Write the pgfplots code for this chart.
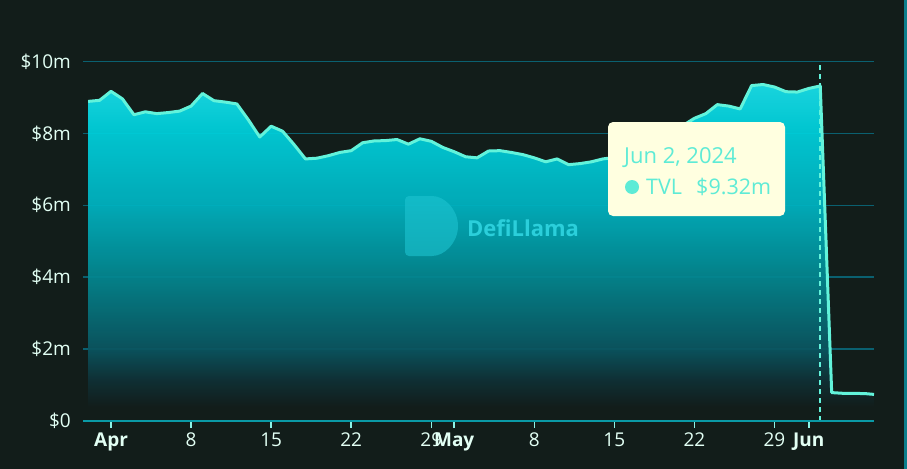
\documentclass[border=0pt]{standalone}
\usepackage{pgfplots}
\usepackage{pgfplotstable}
\pgfplotsset{compat=1.18}
\usepackage{fontspec}
\setmainfont{Open Sans}
\definecolor{bg}{HTML}{121D1A}
\definecolor{c1}{HTML}{0F3035}
\definecolor{c2}{HTML}{0A5560}
\definecolor{c3}{HTML}{04868F}
\definecolor{c4}{HTML}{00B2C0}
\definecolor{c5}{HTML}{00D0DC}
\definecolor{c6}{HTML}{1AE0EA}
\definecolor{linecol}{HTML}{62F3DB}
\definecolor{gridcol}{HTML}{0A6070}
\definecolor{axiscol}{HTML}{0A9AA6}
\definecolor{tickcol}{HTML}{8EF2E6}
\definecolor{labcol}{HTML}{E2FFF4}
\definecolor{tipbg}{HTML}{FFFFE0}
\definecolor{tiptext}{HTML}{5EEBD6}
\definecolor{border}{HTML}{0B7E8C}
\definecolor{wmtext}{HTML}{2BCFDB}
\definecolor{wmlogo}{HTML}{1EC4D1}
\pgfdeclareverticalshading{tvlshade}{100bp}{color(0bp)=(bg); color(27bp)=(bg); color(31bp)=(c1); color(35.7bp)=(c2); color(46.4bp)=(c3); color(57.1bp)=(c4); color(68.3bp)=(c5); color(75bp)=(c6); color(100bp)=(c6)}
\pgfplotstableread{
d v
-2 8.89
-1 8.92
0 9.17
1 8.96
2 8.52
3 8.60
4 8.55
5 8.58
6 8.62
7 8.76
8 9.11
9 8.91
10 8.87
11 8.82
12 8.38
13 7.90
14 8.20
15 8.06
16 7.69
17 7.29
18 7.31
19 7.38
20 7.47
21 7.52
22 7.74
23 7.79
24 7.80
25 7.83
26 7.70
27 7.85
28 7.78
29 7.61
30 7.49
31 7.35
32 7.32
33 7.51
34 7.52
35 7.47
36 7.41
37 7.32
38 7.21
39 7.29
40 7.13
41 7.16
42 7.21
43 7.29
44 7.33
45 7.45
46 7.58
47 7.72
48 7.88
49 8.05
50 8.22
51 8.42
52 8.55
53 8.80
54 8.76
55 8.68
56 9.33
57 9.36
58 9.29
59 9.16
60 9.15
61 9.25
62 9.32
63 0.79
64 0.77
65 0.77
66 0.76
66.7 0.74
}\tvl
\begin{document}
\begin{tikzpicture}
\useasboundingbox (0,0) rectangle (907bp,-469bp);
\fill[bg] (0,0) rectangle (907bp,-469bp);
\begin{axis}[
  at={(83bp,-421bp)}, anchor=south west,
  scale only axis, width=791bp, height=359.5bp,
  xmin=-2.45, xmax=66.7, ymin=0, ymax=10,
  enlargelimits=false, clip=false,
  axis on top,
  axis lines*=left,
  x axis line style={draw=axiscol, line width=2bp},
  y axis line style={draw=none},
  ytick={0,2,4,6,8,10},
  yticklabels={\$0,\$2m,\$4m,\$6m,\$8m,\$10m},
  ytick style={draw=none},
  yticklabel style={anchor=east, inner sep=0pt, xshift=-5bp},
  xtick={0,7,14,21,28,30,37,44,51,58,61},
  xticklabels={\textbf{Apr},8,15,22,29,\textbf{May},8,15,22,29,\textbf{Jun}},
  tick align=outside,
  major tick length=7bp,
  xtick style={draw=tickcol, line width=1.5bp},
  xticklabel style={anchor=north, inner sep=0pt, yshift=-5bp},
  ticklabel style={font=\fontsize{19bp}{22bp}\selectfont, text=labcol},
  /pgf/number format/assume math mode=true,
]
\addplot[draw=gridcol, line width=1.5bp, forget plot] coordinates {(-2.45,2) (66.7,2)};
\addplot[draw=gridcol, line width=1.5bp, forget plot] coordinates {(-2.45,4) (66.7,4)};
\addplot[draw=gridcol, line width=1.5bp, forget plot] coordinates {(-2.45,6) (66.7,6)};
\addplot[draw=gridcol, line width=1.5bp, forget plot] coordinates {(-2.45,8) (66.7,8)};
\addplot[draw=gridcol, line width=1.5bp, forget plot] coordinates {(-2.45,10) (66.7,10)};
\addplot[draw=none, shade, shading=tvlshade, opacity=0.94] table[x=d,y=v] {\tvl} \closedcycle;
\addplot[draw=linecol, dashed, dash pattern=on 5bp off 4bp, line width=1.5bp] coordinates {(62,0) (62,10)};
\addplot[draw=linecol, line width=3bp, line join=round, no marks] table[x=d,y=v] {\tvl};
\end{axis}
% watermark
\fill[wmlogo, opacity=0.6, rounded corners=4bp] (405bp,-196bp) -- (428bp,-196bp) arc[start angle=90, end angle=-90, radius=30bp] -- (405bp,-256bp) -- cycle;
\node[anchor=west, inner sep=0pt, text=wmtext, font=\fontsize{22bp}{26bp}\selectfont\bfseries] at (467bp,-228bp) {DefiLlama};
% tooltip
\fill[tipbg, rounded corners=5bp] (608bp,-122bp) rectangle (785bp,-216bp);
\node[anchor=base west, inner sep=0pt, text=tiptext, font=\fontsize{22bp}{26bp}\selectfont] at (624bp,-163bp) {Jun 2, 2024};
\fill[tiptext] (632bp,-187bp) circle (7bp);
\node[anchor=base west, inner sep=0pt, text=tiptext, font=\fontsize{21.5bp}{25bp}\selectfont] at (646bp,-194.5bp) {TVL};
\node[anchor=base west, inner sep=0pt, text=tiptext, font=\fontsize{21.5bp}{25bp}\selectfont] at (696bp,-194.5bp) {\$9.32m};
% right border
\fill[border] (904bp,0) rectangle (907bp,-469bp);
\end{tikzpicture}
\end{document}
